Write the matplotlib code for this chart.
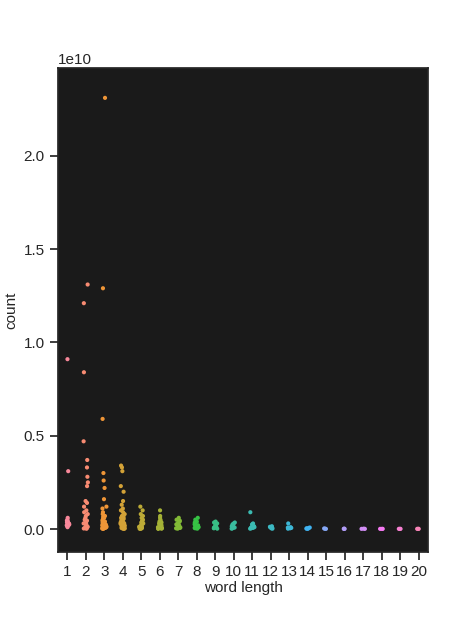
import matplotlib
matplotlib.use("Agg")
import matplotlib.pyplot as plt
import seaborn as sns
import pandas as pd
import numpy as np

lengths = list(range(1, 21))
# counts in units of 1e10, per word length
c1 = [0.91, 0.31, 0.06, 0.05, 0.045, 0.04, 0.035, 0.03, 0.025, 0.02, 0.02, 0.015, 0.01]
c2 = [1.31, 1.21, 0.84, 0.47, 0.37, 0.33, 0.28, 0.25, 0.23, 0.15, 0.14, 0.12, 0.10, 0.09, 0.08, 0.07,
      0.06, 0.05, 0.045, 0.04, 0.035, 0.03, 0.025, 0.02, 0.015, 0.012, 0.01, 0.008, 0.005, 0.004, 0.003, 0.002]
c3 = [2.31, 1.29, 0.59, 0.30, 0.26, 0.22, 0.16, 0.12, 0.11, 0.09, 0.08, 0.07, 0.065, 0.06, 0.055, 0.05,
      0.045, 0.04, 0.035, 0.03, 0.028, 0.025, 0.022, 0.02, 0.018, 0.015, 0.012, 0.01, 0.008, 0.006, 0.004,
      0.003, 0.002, 0.001]
c4 = [0.34, 0.33, 0.31, 0.23, 0.20, 0.15, 0.13, 0.11, 0.10, 0.09, 0.08, 0.07, 0.065, 0.06, 0.055, 0.05,
      0.045, 0.04, 0.035, 0.03, 0.028, 0.025, 0.022, 0.02, 0.018, 0.015, 0.012, 0.01, 0.008, 0.006, 0.004,
      0.003, 0.002, 0.001]
c5 = [0.12, 0.10, 0.08, 0.07, 0.06, 0.05, 0.045, 0.04, 0.035, 0.03, 0.025, 0.02, 0.015, 0.012, 0.01,
      0.008, 0.006, 0.004, 0.003, 0.002, 0.001]
c6 = [0.10, 0.07, 0.06, 0.05, 0.045, 0.04, 0.035, 0.03, 0.025, 0.02, 0.015, 0.012, 0.01, 0.008, 0.006,
      0.004, 0.003, 0.002, 0.001]
c7 = [0.06, 0.05, 0.045, 0.04, 0.035, 0.03, 0.025, 0.02, 0.015, 0.012, 0.01, 0.008, 0.006, 0.004, 0.002]
c8 = [0.06, 0.05, 0.04, 0.035, 0.03, 0.025, 0.02, 0.015, 0.012, 0.01, 0.008, 0.006, 0.004, 0.002]
c9 = [0.04, 0.035, 0.03, 0.025, 0.02, 0.015, 0.012, 0.01, 0.008, 0.006, 0.004, 0.002]
c10 = [0.035, 0.03, 0.025, 0.02, 0.015, 0.012, 0.01, 0.008, 0.006, 0.004, 0.002]
c11 = [0.09, 0.03, 0.025, 0.02, 0.015, 0.01, 0.008, 0.006, 0.004, 0.002]
c12 = [0.015, 0.012, 0.01, 0.008, 0.006, 0.004, 0.002]
c13 = [0.03, 0.01, 0.008, 0.006, 0.004, 0.002]
c14 = [0.008, 0.006, 0.004, 0.002, 0.001]
c15 = [0.003, 0.002, 0.001]
c16 = [0.002, 0.001, 0.001]
c17 = [0.002, 0.001, 0.001]
c18 = [0.001, 0.001, 0.001]
c19 = [0.001, 0.001, 0.001]
c20 = [0.001, 0.001, 0.001]
counts = [c1, c2, c3, c4, c5, c6, c7, c8, c9, c10, c11, c12, c13, c14, c15, c16, c17, c18, c19, c20]

rows = [(L, v * 1e10) for L, vals in zip(lengths, counts) for v in vals]
df = pd.DataFrame(rows, columns=["word length", "count"])

sns.set_theme(style="ticks")
plt.rcParams['font.family'] = ['Liberation Sans', 'DejaVu Sans']
fig = plt.figure(figsize=(4.74, 6.32), dpi=100)
ax = fig.add_axes([58/474, 1-552/632, 370/474, 484/632])
ax.set_facecolor("#1a1a1a")
np.random.seed(0)
pal = sns.husl_palette(20, l=0.7, s=0.9)
sns.stripplot(data=df, x="word length", y="count", hue="word length",
              palette=pal, legend=False, size=3, jitter=0.12, ax=ax, linewidth=0)
ax.set_ylim(-0.123e10, 2.47e10)
ax.set_xlim(-0.5, 19.5)
ax.tick_params(labelsize=11)
ax.set_xlabel("word length", fontsize=11, labelpad=1)
ax.set_ylabel("count", fontsize=11)
fig.savefig("out.png", dpi=100)
